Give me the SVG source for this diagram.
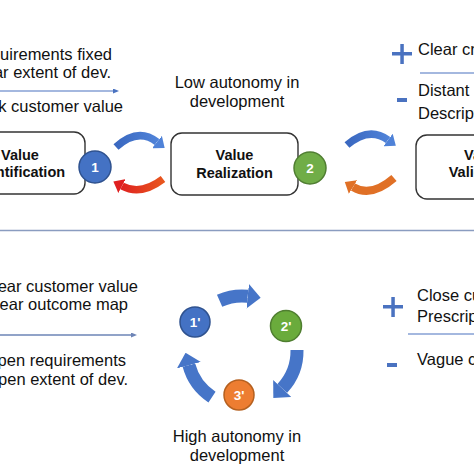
<svg xmlns="http://www.w3.org/2000/svg" width="474" height="474" viewBox="0 0 474 474">
<style>
.t{font-family:"Liberation Sans",Arial,sans-serif;font-size:16.5px;fill:#111}
.tc{font-family:"Liberation Sans",Arial,sans-serif;font-size:16.5px;fill:#111;text-anchor:middle}
.b{font-family:"Liberation Sans",Arial,sans-serif;font-size:14.5px;font-weight:bold;fill:#111;text-anchor:middle}
.box{fill:#fff;stroke:#333;stroke-width:1.4}
.num{font-family:"Liberation Sans",Arial,sans-serif;font-size:13.5px;font-weight:bold;fill:#fff;text-anchor:middle}
.sym{fill:#4a72c0}
.sep{stroke:#4a72c0;stroke-width:1.2}
</style>
<defs>
<linearGradient id="gb" x1="0" y1="0" x2="1" y2="0"><stop offset="0" stop-color="#3a68c0"/><stop offset="1" stop-color="#4f82d8"/></linearGradient>
<linearGradient id="gr" gradientUnits="userSpaceOnUse" x1="163" y1="0" x2="120" y2="0"><stop offset="0" stop-color="#e8561e"/><stop offset="1" stop-color="#df2020"/></linearGradient>
<marker id="ab" viewBox="0 0 10 10" refX="0" refY="5" markerWidth="1.3" markerHeight="2.1" preserveAspectRatio="none" orient="auto"><path d="M0,0 L10,5 L0,10 z" fill="#4f82d8"/></marker>
<marker id="ar" viewBox="0 0 10 10" refX="0" refY="5" markerWidth="1.3" markerHeight="2.1" preserveAspectRatio="none" orient="auto"><path d="M0,0 L10,5 L0,10 z" fill="#df2020"/></marker>
<marker id="ao" viewBox="0 0 10 10" refX="0" refY="5" markerWidth="1.2" markerHeight="2" preserveAspectRatio="none" orient="auto"><path d="M0,0 L10,5 L0,10 z" fill="#e07026"/></marker>
<marker id="ac" viewBox="0 0 10 10" refX="0" refY="5" markerWidth="1" markerHeight="1.9" preserveAspectRatio="none" orient="auto"><path d="M0,0 L10,5 L0,10 z" fill="#4675c8"/></marker>
<marker id="al" viewBox="0 0 10 10" refX="0" refY="5" markerWidth="6" markerHeight="5" markerUnits="userSpaceOnUse" preserveAspectRatio="none" orient="auto"><path d="M0,0 L10,5 L0,10 z" fill="#4a72c0"/></marker>
<marker id="al2" viewBox="0 0 10 10" refX="0" refY="5" markerWidth="6" markerHeight="5" markerUnits="userSpaceOnUse" preserveAspectRatio="none" orient="auto"><path d="M0,0 L10,5 L0,10 z" fill="#6d84b6"/></marker>
</defs>

<g id="top-left">
<text class="t" x="112" y="60" text-anchor="end">Requirements fixed</text>
<text class="t" x="111" y="78" text-anchor="end">Clear extent of dev.</text>
<text class="t" x="123" y="112" text-anchor="end">Lack customer value</text>
</g>
<g id="top-mid">
<text class="tc" x="237" y="88">Low autonomy in</text>
<text class="tc" x="237" y="107">development</text>
</g>
<g id="top-right">
<rect class="sym" x="392" y="52" width="20" height="3.5"/>
<rect class="sym" x="400.3" y="44" width="3.5" height="20"/>
<text class="t" x="418" y="55">Clear criteria</text>
<line class="sep" x1="420" y1="73" x2="474" y2="73"/>
<rect class="sym" x="397" y="98" width="10" height="4"/>
<text class="t" x="418" y="96">Distant customer</text>
<text class="t" x="418" y="119">Descriptive</text>
</g>

<g id="node-identification">
<rect class="box" x="-45" y="132" width="130" height="62" rx="11"/>
<text class="b" x="20" y="160">Value</text>
<text class="b" x="20" y="177">Identification</text>
<circle cx="95" cy="167" r="16" fill="#4472c4" stroke="#2f528f" stroke-width="1.5"/>
<text class="num" x="95" y="172">1</text>
</g>
<g id="node-realization">
<rect class="box" x="171" y="133" width="127" height="62" rx="11"/>
<text class="b" x="234.5" y="160">Value</text>
<text class="b" x="234.5" y="178">Realization</text>
<circle cx="310" cy="168" r="16" fill="#70ad47" stroke="#507e32" stroke-width="1.5"/>
<text class="num" x="310" y="173">2</text>
</g>
<g id="node-validation">
<rect class="box" x="416" y="135" width="134" height="64" rx="11"/>
<text class="b" x="483" y="160">Value</text>
<text class="b" x="483" y="177">Validation</text>
</g>

<g id="connectors" fill="none">
<line x1="0" y1="91" x2="113" y2="91" stroke="#4a72c0" stroke-width="1.2" marker-end="url(#al)"/>
<line x1="0" y1="335" x2="131" y2="335" stroke="#6d84b6" stroke-width="1.5" marker-end="url(#al2)"/>
<path d="M116,147 Q138,127 157,142" stroke="url(#gb)" stroke-width="7.5" marker-end="url(#ab)"/>
<path d="M163,179 Q141,196 122,186" stroke="url(#gr)" stroke-width="7.5" marker-end="url(#ar)"/>
<path d="M347,145 Q369,126 388,140" stroke="url(#gb)" stroke-width="7.5" marker-end="url(#ab)"/>
<path d="M394,178 Q371,198 353,187" stroke="#e07026" stroke-width="8" marker-end="url(#ao)"/>
<path d="M219.6,300.8 A55,55 0 0 1 247.7,296.3" stroke="#4675c8" stroke-width="13" marker-end="url(#ac)"/>
<path d="M297,350 A55,55 0 0 1 282.2,388.5" stroke="#4675c8" stroke-width="13" marker-end="url(#ac)"/>
<path d="M212,397.1 A55,55 0 0 1 188.9,365.2" stroke="#4675c8" stroke-width="13" marker-end="url(#ac)"/>
</g>

<line id="divider" x1="0" y1="230.5" x2="474" y2="230.5" stroke="#8a9cc0" stroke-width="1.5"/>

<g id="bottom-left">
<text class="t" x="138" y="292" text-anchor="end">Clear customer value</text>
<text class="t" x="128" y="310" text-anchor="end">Clear outcome map</text>
<text class="t" x="126" y="366" text-anchor="end">Open requirements</text>
<text class="t" x="128" y="385" text-anchor="end">Open extent of dev.</text>
</g>

<g id="node-1p">
<circle cx="195" cy="322" r="15" fill="#4472c4" stroke="#2f528f" stroke-width="1.5"/>
<text class="num" x="195" y="327">1'</text>
</g>
<g id="node-2p">
<circle cx="286" cy="326" r="15.5" fill="#6aab3c" stroke="#4f7e30" stroke-width="1.5"/>
<text class="num" x="286" y="331">2'</text>
</g>
<g id="node-3p">
<circle cx="239" cy="395" r="15" fill="#ed7d31" stroke="#b5601f" stroke-width="1.5"/>
<text class="num" x="239" y="400">3'</text>
</g>
<g id="bottom-mid">
<text class="tc" x="237" y="442">High autonomy in</text>
<text class="tc" x="237" y="461">development</text>
</g>

<g id="bottom-right">
<rect class="sym" x="383" y="305" width="20" height="3.5"/>
<rect class="sym" x="391.3" y="297" width="3.5" height="20"/>
<text class="t" x="417" y="301">Close customer</text>
<text class="t" x="417" y="322">Prescriptive</text>
<line class="sep" x1="408" y1="334" x2="474" y2="334"/>
<rect class="sym" x="387" y="363" width="10" height="4"/>
<text class="t" x="417" y="365">Vague criteria</text>
</g>
</svg>
